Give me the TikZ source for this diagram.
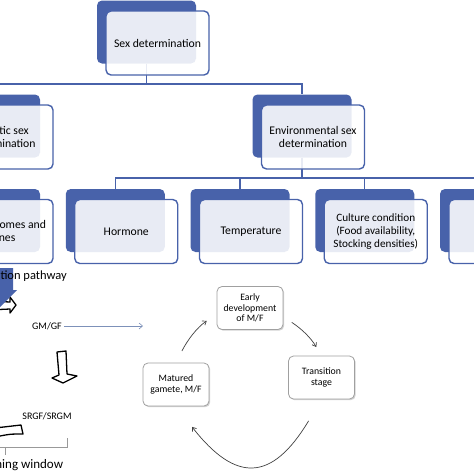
\documentclass[tikz,border=0pt]{standalone}
\usepackage{fontspec}
\setmainfont{Carlito}
\usetikzlibrary{arrows.meta,shadows}

\definecolor{sdblue}{RGB}{72,98,170}
\definecolor{gmline}{RGB}{125,145,185}
\definecolor{cycgray}{RGB}{64,64,64}
\definecolor{stageline}{RGB}{160,160,160}

\begin{document}
\begin{tikzpicture}[
    x=1pt, y=1pt,
    back/.style={fill=sdblue, rounded corners=5pt, minimum width=99pt, minimum height=63pt, inner sep=0pt},
    card/.style={draw=sdblue, line width=1.4pt, fill=white, fill opacity=0.88, text opacity=1,
      rounded corners=5pt, minimum width=103pt, minimum height=64pt, inner sep=1pt, align=center,
      font=\fontsize{11.7}{13}\selectfont},
    link/.style={draw=sdblue, line width=1.4pt},
    stage/.style={draw=stageline, line width=0.8pt, fill=white, rounded corners=5pt,
      minimum width=66pt, minimum height=43pt, inner sep=1pt, align=center,
      font=\fontsize{9.8}{10.5}\selectfont,
      drop shadow={shadow xshift=1.2pt, shadow yshift=-1.2pt, fill=black!35, opacity=0.5}},
    cyc/.style={draw=cycgray, line width=0.7pt, -{Straight Barb[length=3.5pt,width=5pt]}},
    hollow/.style={draw=black, line width=1.3pt, fill=white, line join=round},
    label/.style={font=\fontsize{10}{12}\selectfont, inner sep=2pt},
    brace/.style={draw=black!40, line width=0.8pt}
  ]
  \useasboundingbox (0,0) rectangle (474,-474);
  \clip (0,0) rectangle (474,-474);

  % back cards
  \node[back] (sexB) at (146.5,-32) {};
  \node[back] (gsdB) at (-9.5,-126) {};
  \node[back] (esdB) at (302,-126) {};
  \node[back] (chromB) at (-9.5,-220.5) {};
  \node[back] (hormB) at (115.25,-220.5) {};
  \node[back] (tempB) at (240,-220.5) {};
  \node[back] (cultB) at (364.75,-220.5) {};
  \node[back] (restB) at (489.5,-220.5) {};

  % tree links
  \coordinate (bar1) at (0,-84);
  \coordinate (bar2) at (0,-178);
  \draw[link] (sexB.south) -- (sexB.south |- bar1);
  \draw[link] (gsdB.north) |- (esdB.north |- bar1) -- (esdB.north);
  \draw[link] (gsdB.south) -- (chromB.north);
  \draw[link] (esdB.south) -- (esdB.south |- bar2);
  \draw[link] (hormB.north) |- (restB.north |- bar2) -- (restB.north);
  \draw[link] (tempB.north) -- (tempB.north |- bar2);
  \draw[link] (cultB.north) -- (cultB.north |- bar2);

  % front cards
  \node[card] (sex) at ([shift={(11,-11)}]sexB.center) {Sex determination};
  \node[card] (gsd) at ([shift={(11,-11)}]gsdB.center) {Genetic sex\\determination};
  \node[card] (esd) at ([shift={(11,-11)}]esdB.center) {Environmental sex\\determination};
  \node[card] (chrom) at ([shift={(11,-11)}]chromB.center) {Chromosomes and\\genes};
  \node[card] (horm) at ([shift={(11,-11)}]hormB.center) {Hormone};
  \node[card] (temp) at ([shift={(11,-11)}]tempB.center) {Temperature};
  \node[card, font=\fontsize{11.2}{13}\selectfont] (cult) at ([shift={(11,-11)}]cultB.center) {Culture condition\\(Food availability,\\Stocking densities)};
  \node[card] (rest) at ([shift={(11,-11)}]restB.center) {};

  % differentiation pathway
  \draw[hollow] (-12,-301) -- (10,-302) -- (10,-297) -- (16,-305) -- (10,-313) -- (10,-309) -- (-12,-310) -- cycle;
  \fill[sdblue] (-25,-268) -- (13,-268) -- (13,-290) -- (17,-290) -- (-6,-313) -- (-29,-290) -- (-25,-290) -- cycle;
  \node[anchor=east, font=\fontsize{12.5}{15}\selectfont, inner sep=0pt] (path) at (67,-276) {Sex differentiation pathway};

  \node[label] (gmgf) at (47,-326) {GM/GF};
  \coordinate (gmend) at (143,-326);
  \draw[draw=gmline, line width=0.6pt, -{Straight Barb[length=3.5pt,width=6pt]}] (gmgf.east) -- (gmend);

  \draw[hollow] (57,-352) -- (66,-351) -- (67,-374) -- (77,-376) -- (63,-383) -- (52,-378) -- (59,-375) -- cycle;
  \node[label] (srgf) at (47,-416) {SRGF/SRGM};
  \draw[hollow] (-5,-428) .. controls (8,-426) .. (21,-425) -- (23,-434) .. controls (10,-434) .. (-5,-437) -- cycle;

  \draw[brace] (-57,-438) -- (-57,-447) -- (67,-447) -- (67,-438);
  \draw[brace] (5,-447) -- (5,-455);
  \node[font=\fontsize{13}{15}\selectfont, inner sep=0pt] (window) at (5,-465) {Programming window};

  % gonad cycle
  \node[stage] (early) at (250,-308) {Early\\development\\of M/F};
  \node[stage] (trans) at (321.5,-377.5) {Transition\\stage};
  \node[stage] (mat) at (176,-384.5) {Matured\\gamete, M/F};

  \draw[cyc, shorten <=13pt, shorten >=12pt] (mat.north) to[out=63, in=215] (early.190);
  \draw[cyc, shorten <=10pt, shorten >=10pt] (early.345) to[out=-33, in=121] (trans.north);
  \draw[cyc, shorten <=25pt, shorten >=26pt] (trans.south) to[out=239, in=308, looseness=1.7] (mat.south);
\end{tikzpicture}
\end{document}
